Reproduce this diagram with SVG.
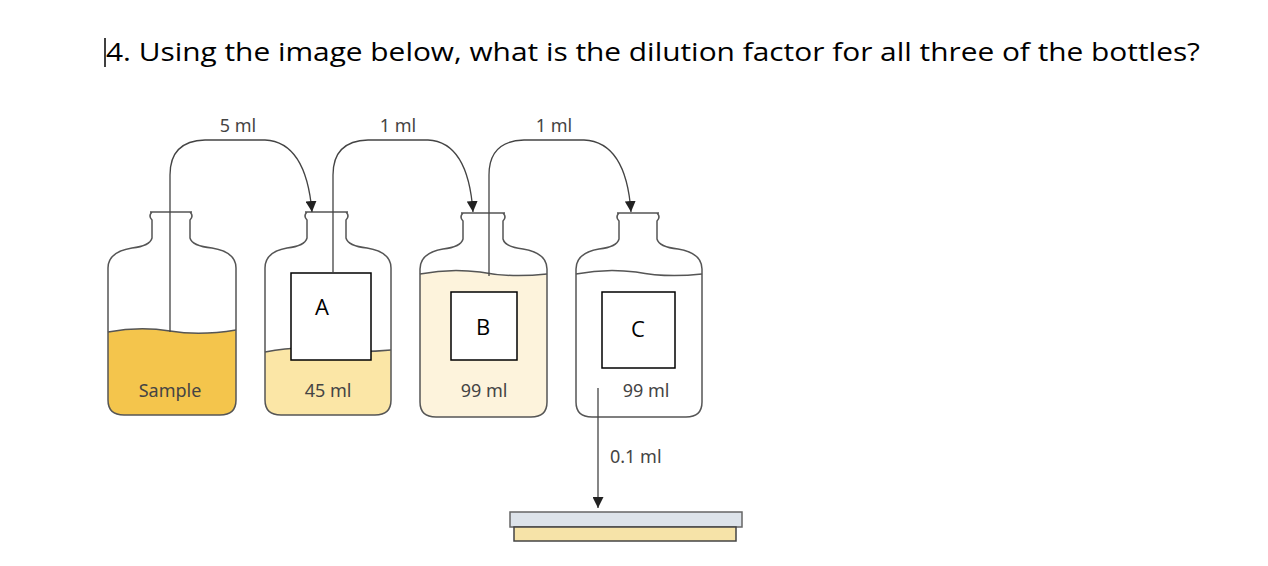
<svg xmlns="http://www.w3.org/2000/svg" width="1268" height="566" viewBox="0 0 1268 566">
<style>
.b{fill:none;stroke:#555;stroke-width:1.5}
.t{fill:none;stroke:#444;stroke-width:1.3}
.lbl{font-family:"Noto Sans","DejaVu Sans",sans-serif;font-size:18px;fill:#444}
.box{fill:#fff;stroke:#000;stroke-width:1.5}
.bt{font-family:"Open Sans","Liberation Sans",sans-serif;font-size:22px;fill:#000;text-anchor:middle}
</style>
<defs>
<marker id="a" viewBox="0 0 10 10" refX="10" refY="5" markerWidth="11" markerHeight="11" markerUnits="userSpaceOnUse" orient="auto"><path d="M0,0 L10,5 L0,10 Z" fill="#222"/></marker>
</defs>
<rect width="1268" height="566" fill="#fff"/>
<line x1="105" y1="38" x2="105" y2="67" stroke="#000" stroke-width="1.5"/>
<text x="106" y="61" font-family="'Open Sans','Liberation Sans',sans-serif" font-size="25" font-weight="500" textLength="1094" lengthAdjust="spacingAndGlyphs">4. Using the image below, what is the dilution factor for all three of the bottles?</text>

<g id="sample">
<path d="M108,332 Q140,326 170,331 Q200,336 236,330 L236,400 Q236,415 220,415 L124,415 Q108,415 108,400 Z" fill="#f4c54c"/>
<path class="b" d="M150,212 L192,212 M152,212 Q148,216 152,220 L152,238 Q150,246 132,248 Q108,252 108,268 L108,400 Q108,415 124,415 L220,415 Q236,415 236,400 L236,268 Q236,252 212,248 Q192,246 190,238 L190,220 Q194,216 190,212"/>
<path class="b" d="M108,332 Q140,326 170,331 Q200,336 236,330"/>
<text class="lbl" x="170" y="397" text-anchor="middle">Sample</text>
</g>
<g id="A">
<path d="M265,352 Q300,345 330,350 Q360,353 391,350 L391,400 Q391,415 375,415 L281,415 Q265,415 265,400 Z" fill="#fbe6a6"/>
<path class="b" d="M305,212 L348,212 M307,212 Q303,216 307,220 L307,238 Q305,246 287,248 Q265,252 265,268 L265,400 Q265,415 281,415 L375,415 Q391,415 391,400 L391,268 Q391,252 367,248 Q348,246 346,238 L346,220 Q350,216 346,212"/>
<path class="b" d="M265,352 Q300,345 330,350 Q360,353 391,350"/>
<rect class="box" x="291" y="273" width="80" height="87"/>
<text class="bt" x="322" y="315">A</text>
<text class="lbl" x="328" y="397" text-anchor="middle">45 ml</text>
</g>
<g id="B">
<path d="M420,274 Q450,268 480,272 Q510,278 547,274 L547,402 Q547,417 531,417 L436,417 Q420,417 420,402 Z" fill="#fdf3dc"/>
<path class="b" d="M461,213 L505,213 M463,213 Q459,217 463,221 L463,239 Q461,247 443,249 Q420,253 420,269 L420,402 Q420,417 436,417 L531,417 Q547,417 547,402 L547,269 Q547,253 523,249 Q505,247 503,239 L503,221 Q507,217 503,213"/>
<path class="b" d="M420,274 Q450,268 480,272 Q510,278 547,274"/>
<rect class="box" x="451" y="292" width="66" height="68"/>
<text class="bt" x="483" y="335">B</text>
<text class="lbl" x="484" y="397" text-anchor="middle">99 ml</text>
</g>
<g id="C">
<path class="b" d="M617,213 L659,213 M619,213 Q615,217 619,221 L619,239 Q617,247 599,249 Q576,253 576,269 L576,402 Q576,417 592,417 L686,417 Q702,417 702,402 L702,269 Q702,253 678,249 Q659,247 657,239 L657,221 Q661,217 657,213"/>
<path class="b" d="M576,274 Q606,268 636,272 Q666,278 702,274"/>
<rect class="box" x="602" y="292" width="73" height="76"/>
<text class="bt" x="638" y="337">C</text>
<text class="lbl" x="646" y="397" text-anchor="middle">99 ml</text>
</g>
<g id="plate">
<rect x="510" y="512" width="232" height="15" fill="#dde3ea" stroke="#666" stroke-width="1.5"/>
<rect x="514" y="527" width="222" height="14" fill="#f6e3a8" stroke="#444" stroke-width="1.5"/>
</g>
<g id="connectors">
<path class="t" d="M170,332 L170,175 Q170,141 205,140 L265,140 Q306,142 312,212" marker-end="url(#a)"/>
<path class="t" d="M333,272 L333,175 Q333,141 368,140 L428,140 Q468,142 473,212" marker-end="url(#a)"/>
<path class="t" d="M489,276 L489,175 Q489,141 524,140 L584,140 Q626,142 631,212" marker-end="url(#a)"/>
<path class="t" d="M598,388 L598,508" marker-end="url(#a)"/>
<text class="lbl" x="238" y="132" text-anchor="middle">5 ml</text>
<text class="lbl" x="398" y="132" text-anchor="middle">1 ml</text>
<text class="lbl" x="554" y="132" text-anchor="middle">1 ml</text>
<text class="lbl" x="610" y="463">0.1 ml</text>
</g>
</svg>
